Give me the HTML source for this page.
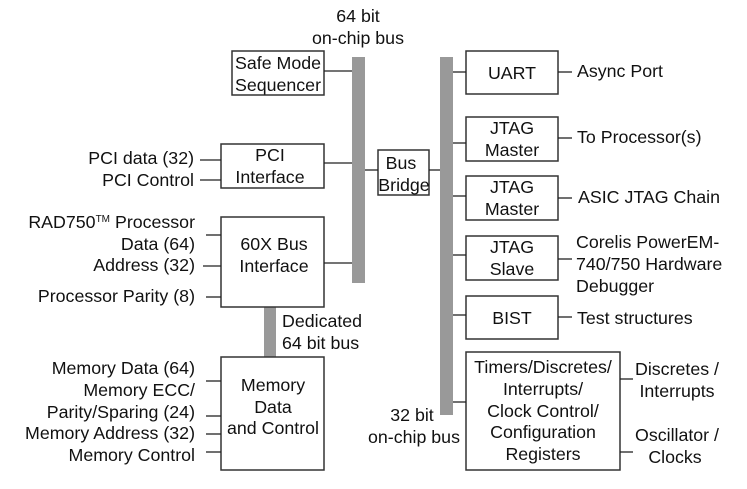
<!DOCTYPE html>
<html><head><meta charset="utf-8"><style>
html,body{margin:0;padding:0;background:#fff;width:747px;height:489px;overflow:hidden}
svg text{font-family:"Liberation Sans",Arial,sans-serif;font-size:17.8px;fill:#111}
</style></head><body>
<svg width="747" height="489" viewBox="0 0 747 489" xmlns="http://www.w3.org/2000/svg">
<g fill="#999">
<rect x="352" y="57" width="13" height="226"/>
<rect x="440" y="57" width="13" height="358"/>
<rect x="264" y="307" width="12" height="50"/>
</g>
<g fill="none" stroke="#333" stroke-width="1.5">
<rect x="232" y="51" width="92" height="44"/>
<rect x="221" y="144" width="103" height="44"/>
<rect x="378" y="150" width="51" height="45"/>
<rect x="221" y="217" width="103" height="90"/>
<rect x="221" y="357" width="103" height="113"/>
<rect x="466" y="51" width="92" height="43"/>
<rect x="466" y="117" width="92" height="44"/>
<rect x="466" y="176" width="92" height="44"/>
<rect x="466" y="236" width="92" height="44"/>
<rect x="466" y="296" width="92" height="43"/>
<rect x="466" y="352" width="154" height="118"/>
</g>
<g stroke="#222" stroke-width="1.3">
<line x1="324" y1="71" x2="352" y2="71"/>
<line x1="200" y1="160" x2="221" y2="160"/>
<line x1="200" y1="180" x2="221" y2="180"/>
<line x1="324" y1="163" x2="352" y2="163"/>
<line x1="365" y1="170" x2="378" y2="170"/>
<line x1="429" y1="170" x2="440" y2="170"/>
<line x1="206" y1="235" x2="221" y2="235"/>
<line x1="203" y1="266" x2="221" y2="266"/>
<line x1="206" y1="297" x2="221" y2="297"/>
<line x1="324" y1="263" x2="352" y2="263"/>
<line x1="206" y1="381" x2="221" y2="381"/>
<line x1="206" y1="416" x2="221" y2="416"/>
<line x1="206" y1="434" x2="221" y2="434"/>
<line x1="206" y1="452" x2="221" y2="452"/>
<line x1="453" y1="72" x2="466" y2="72"/>
<line x1="453" y1="143" x2="466" y2="143"/>
<line x1="453" y1="196" x2="466" y2="196"/>
<line x1="453" y1="255" x2="466" y2="255"/>
<line x1="453" y1="315" x2="466" y2="315"/>
<line x1="453" y1="402" x2="466" y2="402"/>
<line x1="558" y1="72" x2="572" y2="72"/>
<line x1="558" y1="138" x2="572" y2="138"/>
<line x1="558" y1="198" x2="572" y2="198"/>
<line x1="558" y1="259" x2="572" y2="259"/>
<line x1="558" y1="317" x2="572" y2="317"/>
<line x1="620" y1="379" x2="633" y2="379"/>
<line x1="620" y1="452" x2="633" y2="452"/>
</g>
<g text-anchor="middle">
<text x="358" y="22">64 bit</text>
<text x="358" y="44">on-chip bus</text>
<text x="278" y="69">Safe Mode</text>
<text x="278" y="91">Sequencer</text>
<text x="270" y="161">PCI</text>
<text x="270" y="183">Interface</text>
<text x="401" y="169">Bus</text>
<text x="404" y="191">Bridge</text>
<text x="274" y="250">60X Bus</text>
<text x="274" y="272">Interface</text>
<text x="273" y="391">Memory</text>
<text x="273" y="413">Data</text>
<text x="273" y="434">and Control</text>
<text x="412" y="421">32 bit</text>
<text x="414" y="443">on-chip bus</text>
<text x="512" y="79">UART</text>
<text x="512" y="134">JTAG</text>
<text x="512" y="156">Master</text>
<text x="512" y="193">JTAG</text>
<text x="512" y="215">Master</text>
<text x="512" y="253">JTAG</text>
<text x="512" y="275">Slave</text>
<text x="512" y="324">BIST</text>
<text x="543" y="373">Timers/Discretes/</text>
<text x="543" y="395">Interrupts/</text>
<text x="543" y="417">Clock Control/</text>
<text x="543" y="438">Configuration</text>
<text x="543" y="460">Registers</text>
<text x="677" y="375">Discretes /</text>
<text x="677" y="397">Interrupts</text>
<text x="677" y="441">Oscillator /</text>
<text x="675" y="463">Clocks</text>
</g>
<g text-anchor="end">
<text x="194" y="164">PCI data (32)</text>
<text x="194" y="186">PCI Control</text>
<text x="195" y="228">RAD750<tspan font-size="10" dy="-6">TM</tspan><tspan dy="6"> Processor</tspan></text>
<text x="195" y="250">Data (64)</text>
<text x="195" y="271">Address (32)</text>
<text x="195" y="302">Processor Parity (8)</text>
<text x="195" y="374">Memory Data (64)</text>
<text x="195" y="396">Memory ECC/</text>
<text x="195" y="418">Parity/Sparing (24)</text>
<text x="195" y="439">Memory Address (32)</text>
<text x="195" y="461">Memory Control</text>
</g>
<text x="282" y="327">Dedicated</text>
<text x="282" y="349">64 bit bus</text>
<text x="577" y="77">Async Port</text>
<text x="577" y="143">To Processor(s)</text>
<text x="578" y="203">ASIC JTAG Chain</text>
<text x="576" y="248">Corelis PowerEM-</text>
<text x="576" y="270">740/750 Hardware</text>
<text x="576" y="292">Debugger</text>
<text x="577" y="324">Test structures</text>
</svg>
</body></html>
